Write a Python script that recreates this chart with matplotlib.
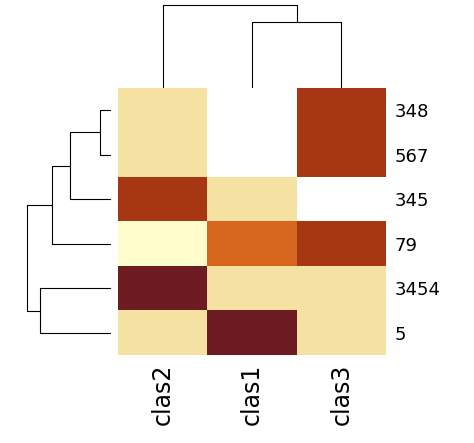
import matplotlib
matplotlib.use("Agg")
import matplotlib.pyplot as plt
import numpy as np
from matplotlib.colors import ListedColormap

rows = ["348", "567", "345", "79", "3454", "5"]
cols = ["clas2", "clas1", "clas3"]
# level codes: 0 pale, 1 tan, 2 orange, 3 red, 4 maroon, nan missing
vals = np.array([
    [1, np.nan, 3],
    [1, np.nan, 3],
    [3, 1, np.nan],
    [0, 2, 3],
    [4, 1, 1],
    [1, 4, 1],
], dtype=float)
colors = ["#FFFDCB", "#F5E1A2", "#D7661F", "#A73713", "#6D1C22"]

# dendrogram merges: (left pos, right pos, height)
row_merges = [(0, 1, 10, 0.5), (0.5, 2, 40, 1.25), (1.25, 3, 58, 2.125), (4, 5, 70, 4.5), (2.125, 4.5, 83, None)]
row_child_h = {0.5: 10, 1.25: 40, 2.125: 58, 4.5: 70}
col_merges = [(1, 2, 66, 1.5), (0, 1.5, 83, None)]
col_child_h = {1.5: 66}

fig = plt.figure(figsize=(4.74, 4.43), dpi=100)
W, H = 474, 443
hx0, hx1, hy0, hy1 = 118, 386, 88, 355
ax = fig.add_axes([hx0 / W, 1 - hy1 / H, (hx1 - hx0) / W, (hy1 - hy0) / H])
cmap = ListedColormap(colors)
cmap.set_bad("white")
ax.imshow(np.ma.masked_invalid(vals), cmap=cmap, vmin=-0.5, vmax=4.5, aspect="auto", interpolation="nearest")
ax.set_xticks(range(3))
ax.set_xticklabels(cols, rotation=90, fontsize=17)
ax.set_yticks(range(6))
ax.set_yticklabels(rows, fontsize=13)
ax.yaxis.tick_right()
ax.tick_params(length=0, pad=6)
for s in ax.spines.values():
    s.set_visible(False)

rax = fig.add_axes([0, 1 - hy1 / H, hx0 / W, (hy1 - hy0) / H])
rax.set_xlim(hx0 - 8, -8)
rax.set_ylim(5.5, -0.5)
rax.axis("off")
for a, b, h, _ in row_merges:
    ha = row_child_h.get(a, 0)
    hb = row_child_h.get(b, 0)
    rax.plot([ha, h, h, hb], [a, a, b, b], color="black", lw=0.8)

cax = fig.add_axes([hx0 / W, 1 - hy0 / H, (hx1 - hx0) / W, hy0 / H])
cax.set_xlim(-0.5, 2.5)
cax.set_ylim(0, hy0)
cax.axis("off")
for a, b, h, _ in col_merges:
    ha = col_child_h.get(a, 0)
    hb = col_child_h.get(b, 0)
    cax.plot([a, a, b, b], [ha, h, h, hb], color="black", lw=0.8)

fig.savefig("out.png", dpi=100)
